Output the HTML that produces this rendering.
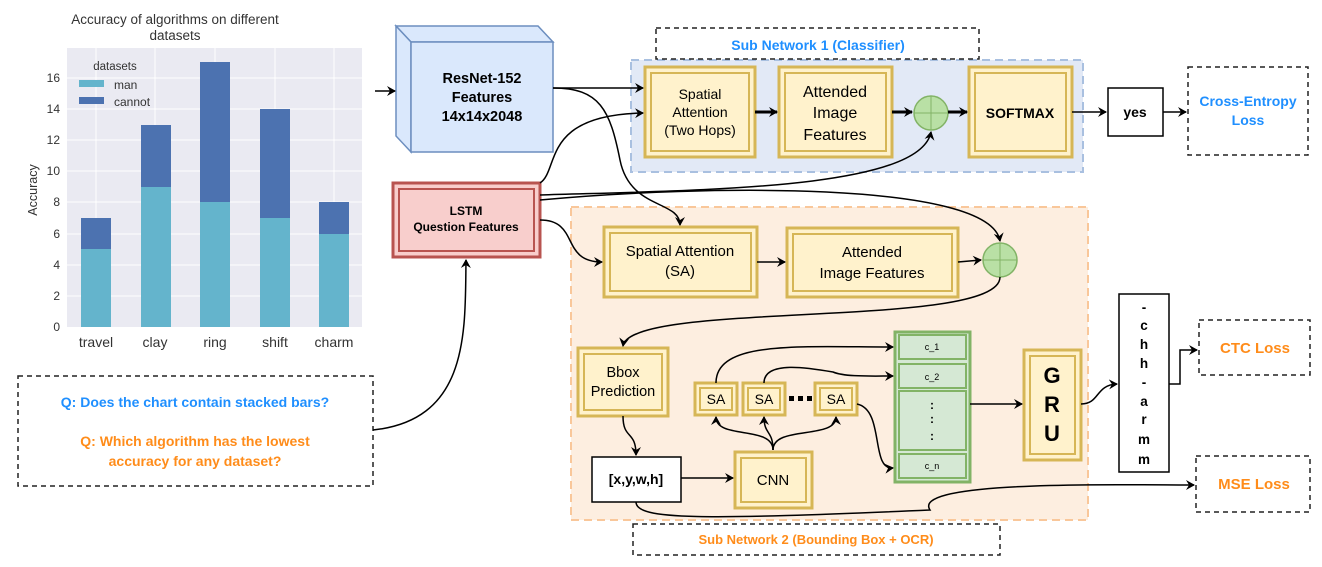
<!DOCTYPE html>
<html><head><meta charset="utf-8"><style>
html,body{margin:0;padding:0;background:#fff;}
svg{display:block;font-family:"Liberation Sans",Arial,sans-serif;}
</style></head><body>
<svg width="1322" height="567" viewBox="0 0 1322 567" xmlns="http://www.w3.org/2000/svg">
<defs>
<marker id="ar" markerWidth="10" markerHeight="10" refX="8" refY="5" orient="auto" markerUnits="userSpaceOnUse">
<path d="M0,0 L9,5 L0,10 L3,5 Z" fill="#000"/></marker>
</defs>
<!-- chart -->
<text x="175" y="24" font-size="13.5" text-anchor="middle" fill="#333">Accuracy of algorithms on different</text>
<text x="175" y="40" font-size="13.5" text-anchor="middle" fill="#333">datasets</text>
<rect x="67" y="48" width="295" height="279" fill="#eaeaf2"/>
<g stroke="#fff" stroke-width="1">
<line x1="67" y1="296" x2="362" y2="296"/><line x1="67" y1="265" x2="362" y2="265"/><line x1="67" y1="234" x2="362" y2="234"/>
<line x1="67" y1="202" x2="362" y2="202"/><line x1="67" y1="171" x2="362" y2="171"/><line x1="67" y1="140" x2="362" y2="140"/>
<line x1="67" y1="109" x2="362" y2="109"/><line x1="67" y1="78" x2="362" y2="78"/>
<line x1="96" y1="48" x2="96" y2="327"/><line x1="155" y1="48" x2="155" y2="327"/><line x1="215" y1="48" x2="215" y2="327"/><line x1="275" y1="48" x2="275" y2="327"/><line x1="334" y1="48" x2="334" y2="327"/>
</g>
<g fill="#64b4cc"><rect x="81" y="249" width="30" height="78"/><rect x="141" y="187" width="30" height="140"/><rect x="200" y="202" width="30" height="125"/><rect x="260" y="218" width="30" height="109"/><rect x="319" y="234" width="30" height="93"/></g>
<g fill="#4c72b0"><rect x="81" y="218" width="30" height="31"/><rect x="141" y="125" width="30" height="62"/><rect x="200" y="62" width="30" height="140"/><rect x="260" y="109" width="30" height="109"/><rect x="319" y="202" width="30" height="32"/></g>
<text x="115" y="70" font-size="11.5" text-anchor="middle" fill="#333">datasets</text>
<rect x="79" y="80" width="25" height="7" fill="#64b4cc"/><text x="114" y="89" font-size="12" fill="#333">man</text>
<rect x="79" y="97" width="25" height="7" fill="#4c72b0"/><text x="114" y="106" font-size="12" fill="#333">cannot</text>
<g font-size="12" fill="#333" text-anchor="end">
<text x="60" y="331">0</text><text x="60" y="300">2</text><text x="60" y="269">4</text><text x="60" y="238">6</text><text x="60" y="206">8</text><text x="60" y="175">10</text><text x="60" y="144">12</text><text x="60" y="113">14</text><text x="60" y="82">16</text></g>
<text x="37" y="190" font-size="12.5" fill="#333" text-anchor="middle" transform="rotate(-90 37 190)">Accuracy</text>
<g font-size="14" fill="#333" text-anchor="middle">
<text x="96" y="347">travel</text><text x="155" y="347">clay</text><text x="215" y="347">ring</text><text x="275" y="347">shift</text><text x="334" y="347">charm</text></g>

<!-- backgrounds -->
<rect x="631" y="60" width="452" height="112" fill="#e2e9f6" stroke="#a9c0e0" stroke-width="2" stroke-dasharray="8,5"/>
<rect x="571" y="207" width="517" height="313" fill="#fdeee0" stroke="#f9c79a" stroke-width="2" stroke-dasharray="8,5"/>
<rect x="656" y="28" width="323" height="31" fill="none" stroke="#222" stroke-width="1.5" stroke-dasharray="5,4"/>
<text x="818" y="50" font-size="14" font-weight="bold" fill="#1f8fff" text-anchor="middle">Sub Network 1 (Classifier)</text>
<rect x="633" y="524" width="367" height="31" fill="none" stroke="#222" stroke-width="1.5" stroke-dasharray="5,4"/>
<text x="816" y="544" font-size="13" font-weight="bold" fill="#ff8c1a" text-anchor="middle">Sub Network 2 (Bounding Box + OCR)</text>

<!-- cube -->
<g stroke="#6c8ebf" stroke-width="1.5" fill="#dae8fc">
<path d="M396,26 L538,26 L553,42 L411,42 Z"/>
<path d="M396,26 L411,42 L411,152 L396,136 Z"/>
<rect x="411" y="42" width="142" height="110"/>
</g>
<g font-size="14.5" font-weight="bold" text-anchor="middle"><text x="482" y="83">ResNet-152</text><text x="482" y="102">Features</text><text x="482" y="121">14x14x2048</text></g>
<line x1="375" y1="91" x2="395" y2="91" stroke="#000" stroke-width="1.5" marker-end="url(#ar)"/>

<!-- LSTM -->
<rect x="393" y="183" width="147" height="74" fill="#f8cecc" stroke="#b85450" stroke-width="3"/>
<rect x="399" y="189" width="135" height="62" fill="none" stroke="#b85450" stroke-width="2"/>
<g font-size="12" font-weight="bold" text-anchor="middle"><text x="466" y="215">LSTM</text><text x="466" y="231">Question Features</text></g>

<!-- yellow boxes -->
<g fill="#fff2cc" stroke="#d6b656">
<rect x="645" y="67" width="110" height="90" stroke-width="3"/><rect x="651" y="73" width="98" height="78" stroke-width="2"/>
<rect x="779" y="67" width="113" height="90" stroke-width="3"/><rect x="785" y="73" width="101" height="78" stroke-width="2"/>
<rect x="969" y="67" width="103" height="90" stroke-width="3"/><rect x="975" y="73" width="91" height="78" stroke-width="2"/>
<rect x="604" y="227" width="153" height="70" stroke-width="3"/><rect x="610" y="233" width="141" height="58" stroke-width="2"/>
<rect x="787" y="228" width="171" height="69" stroke-width="3"/><rect x="793" y="234" width="159" height="57" stroke-width="2"/>
<rect x="578" y="348" width="90" height="68" stroke-width="3"/><rect x="584" y="354" width="78" height="56" stroke-width="2"/>
<rect x="735" y="452" width="77" height="56" stroke-width="3"/><rect x="741" y="458" width="65" height="44" stroke-width="2"/>
<rect x="695" y="383" width="42" height="32" stroke-width="3"/><rect x="700" y="388" width="32" height="22" stroke-width="2"/>
<rect x="743" y="383" width="42" height="32" stroke-width="3"/><rect x="748" y="388" width="32" height="22" stroke-width="2"/>
<rect x="815" y="383" width="42" height="32" stroke-width="3"/><rect x="820" y="388" width="32" height="22" stroke-width="2"/>
<rect x="1024" y="350" width="57" height="110" stroke-width="3"/><rect x="1030" y="356" width="45" height="98" stroke-width="2"/>
</g>
<g font-size="14" text-anchor="middle">
<text x="700" y="99">Spatial</text><text x="700" y="117">Attention</text><text x="700" y="135">(Two Hops)</text>
<text x="835" y="97" font-size="16">Attended</text><text x="835" y="118" font-size="16">Image</text><text x="835" y="140" font-size="16">Features</text>
<text x="680" y="256" font-size="15">Spatial Attention</text><text x="680" y="276" font-size="15">(SA)</text>
<text x="872" y="257" font-size="15">Attended</text><text x="872" y="278" font-size="15">Image Features</text>
<text x="623" y="377" font-size="14.5">Bbox</text><text x="623" y="396" font-size="14.5">Prediction</text>
<text x="773" y="485" font-size="15">CNN</text>
<text x="716" y="404" font-size="14">SA</text><text x="764" y="404" font-size="14">SA</text><text x="836" y="404" font-size="14">SA</text>
</g>
<text x="1020" y="118" font-size="14" font-weight="bold" text-anchor="middle">SOFTMAX</text>
<g font-size="22" font-weight="bold" text-anchor="middle"><text x="1052" y="383">G</text><text x="1052" y="412">R</text><text x="1052" y="441">U</text></g>
<g fill="#000"><rect x="789" y="396" width="5" height="5"/><rect x="798" y="396" width="5" height="5"/><rect x="807" y="396" width="5" height="5"/></g>

<!-- circles -->
<g fill="#b9e0a5" stroke="#82b366" stroke-width="1.5">
<ellipse cx="931" cy="113" rx="17" ry="17"/><ellipse cx="1000" cy="260" rx="17" ry="17"/></g>
<g stroke="#82b366" stroke-width="1"><line x1="914" y1="113" x2="948" y2="113"/><line x1="931" y1="96" x2="931" y2="130"/><line x1="983" y1="260" x2="1017" y2="260"/><line x1="1000" y1="243" x2="1000" y2="277"/></g>

<!-- green column -->
<rect x="895" y="332" width="75" height="150" fill="#d5e8d4" stroke="#82b366" stroke-width="3"/>
<g fill="#d5e8d4" stroke="#82b366" stroke-width="2">
<rect x="899" y="335" width="67" height="24"/><rect x="899" y="364" width="67" height="24"/><rect x="899" y="391" width="67" height="59"/><rect x="899" y="454" width="67" height="24"/></g>
<g font-size="9" text-anchor="middle"><text x="932" y="350">c_1</text><text x="932" y="380">c_2</text><text x="932" y="469">c_n</text></g>
<g font-size="12" font-weight="bold" text-anchor="middle"><text x="932" y="409">:</text><text x="932" y="423">:</text><text x="932" y="440">:</text></g>

<!-- white boxes -->
<rect x="1108" y="88" width="55" height="48" fill="#fff" stroke="#000" stroke-width="1.5"/>
<text x="1135" y="117" font-size="14" font-weight="bold" text-anchor="middle">yes</text>
<rect x="592" y="457" width="89" height="45" fill="#fff" stroke="#000" stroke-width="1.5"/>
<text x="636" y="484" font-size="14" font-weight="bold" text-anchor="middle">[x,y,w,h]</text>
<rect x="1119" y="294" width="50" height="178" fill="#fff" stroke="#000" stroke-width="1.5"/>
<g font-size="13.5" font-weight="bold" text-anchor="middle">
<text x="1144" y="312">-</text><text x="1144" y="330">c</text><text x="1144" y="349">h</text><text x="1144" y="368">h</text><text x="1144" y="387">-</text><text x="1144" y="406">a</text><text x="1144" y="424">r</text><text x="1144" y="444">m</text><text x="1144" y="464">m</text></g>

<!-- loss boxes -->
<g fill="none" stroke="#222" stroke-width="1.5" stroke-dasharray="5,4">
<rect x="1188" y="67" width="120" height="88"/><rect x="1199" y="320" width="111" height="55"/><rect x="1196" y="456" width="114" height="56"/>
<rect x="18" y="376" width="355" height="110"/></g>
<g font-weight="bold" text-anchor="middle">
<text x="1248" y="106" font-size="14" fill="#1f8fff">Cross-Entropy</text><text x="1248" y="125" font-size="14" fill="#1f8fff">Loss</text>
<text x="1255" y="353" font-size="15" fill="#ff8c1a">CTC Loss</text>
<text x="1254" y="489" font-size="15" fill="#ff8c1a">MSE Loss</text>
<text x="195" y="407" font-size="14" fill="#1f8fff">Q: Does the chart contain stacked bars?</text>
<text x="195" y="446" font-size="14" fill="#ff8c1a">Q: Which algorithm has the lowest</text>
<text x="195" y="466" font-size="14" fill="#ff8c1a">accuracy for any dataset?</text>
</g>

<!-- connectors -->
<g fill="none" stroke="#000" stroke-width="1.5" marker-end="url(#ar)">
<path d="M553,88 L643,88"/>
<path d="M553,88 C600,88 610,110 620,160 C630,210 680,200 680,225"/>
<path d="M540,183 C560,170 540,115 643,113"/>
<path d="M540,195 C700,190 920,190 931,132"/>
<path d="M540,200 C700,185 990,180 1000,241"/>
<path d="M540,220 C580,220 560,262 602,262"/>
<path d="M373,430 C470,420 465,330 466,260"/>
<path d="M757,262 L785,262"/>
<path d="M958,262 L981,260"/>
<path d="M1000,277 C1000,330 630,300 623,346"/>
<path d="M623,416 C623,440 636,430 636,455"/>
<path d="M681,478 L733,478"/>
<path d="M773,450 C773,425 716,440 716,417"/>
<path d="M773,450 C773,430 764,435 764,417"/>
<path d="M773,450 C773,425 836,440 836,417"/>
<path d="M716,383 C716,340 800,347 893,347"/>
<path d="M764,383 C764,360 810,368 833,372 C845,377 870,376 893,376"/>
<path d="M857,404 C885,410 870,470 893,468"/>
<path d="M970,404 L1022,404"/>
<path d="M1081,404 C1100,404 1095,385 1117,384"/>
<path d="M1169,384 L1180,384 L1180,350 L1197,350"/>
<path d="M636,502 C636,520 700,520 930,510 C910,480 1120,485 1194,485"/>
</g>
<g fill="none" stroke="#000" stroke-width="3" marker-end="url(#ar)">
<path d="M755,112 L777,112"/><path d="M892,112 L912,112"/><path d="M948,112 L967,112"/></g>
<g fill="none" stroke="#000" stroke-width="1.5" marker-end="url(#ar)">
<path d="M1072,112 L1106,112"/><path d="M1163,112 L1186,112"/></g>
</svg>
</body></html>
